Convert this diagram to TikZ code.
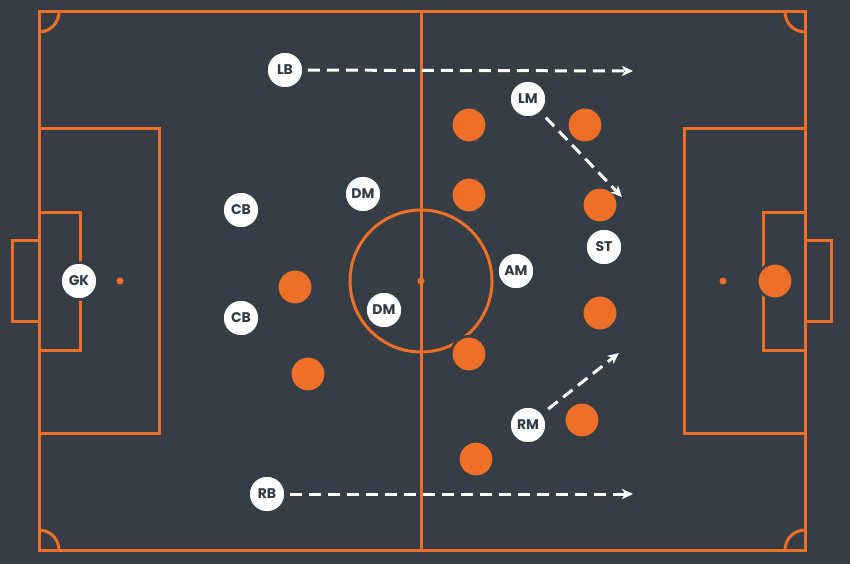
\documentclass[tikz,border=0pt]{standalone}
\usepackage{fontspec}
\setmainfont{Poppins}
\usetikzlibrary{arrows.meta}
\definecolor{pitch}{RGB}{54,61,68}
\definecolor{chalk}{RGB}{238,112,40}
\definecolor{ink}{RGB}{52,58,64}
\tikzstyle{player} = [circle, fill=white, draw=pitch, line width=2.5pt, minimum size=37pt, inner sep=0pt, text=ink, font=\bfseries\fontsize{14}{14}\selectfont]
\tikzstyle{rival} = [circle, fill=chalk, draw=pitch, line width=2.5pt, minimum size=35.5pt, inner sep=0pt]
\tikzstyle{run} = [draw=white, line width=3pt, dash pattern=on 12pt off 7pt, -{Stealth[length=11pt,width=10pt,inset=3pt]}]
\tikzstyle{line} = [draw=chalk, line width=3pt]

\begin{document}
\begin{tikzpicture}[x=1pt, y=-1pt]
    % pitch
    \fill[pitch] (0,0) rectangle (850,564);
    \useasboundingbox (0,0) rectangle (850,564);
    \draw[line] (39,12) rectangle (805,550);
    \draw[line] (421,12) -- (421,550);
    \draw[line] (421,281) circle[radius=71];
    \fill[chalk] (421,281) circle[radius=3.5];
    \draw[line] (39,129) rectangle (159,433);
    \draw[line] (39,212) rectangle (80,350);
    \draw[line] (12,240) rectangle (39,321);
    \fill[chalk] (120,281) circle[radius=3.5];
    \draw[line] (684,129) rectangle (805,433);
    \draw[line] (763,212) rectangle (805,350);
    \draw[line] (805,240) rectangle (831,321);
    \fill[chalk] (723,281) circle[radius=3.5];
    \begin{scope}
        \clip (39,12) rectangle (805,550);
        \draw[line] (39,12) circle[radius=20];
        \draw[line] (805,12) circle[radius=20];
        \draw[line] (39,550) circle[radius=20];
        \draw[line] (805,550) circle[radius=20];
    \end{scope}

    % opponents
    \node [rival] (rivalA) at (469,125) {};
    \node [rival] (rivalB) at (585,125) {};
    \node [rival] (rivalC) at (469,195) {};
    \node [rival] (rivalD) at (600,205) {};
    \node [rival] (rivalE) at (295,287) {};
    \node [rival] (rivalF) at (600,313) {};
    \node [rival] (rivalG) at (469,354) {};
    \node [rival] (rivalH) at (308,374) {};
    \node [rival] (rivalI) at (582,420) {};
    \node [rival] (rivalJ) at (476,459) {};
    \node [rival] (rivalKeeper) at (775,281) {};

    % team
    \node [player] (leftBack) at (285,70) {LB};
    \node [player] (leftMid) at (528,99) {LM};
    \node [player] (centreBackA) at (241,210) {CB};
    \node [player] (defMidA) at (363,194) {DM};
    \node [player] (striker) at (604,247) {ST};
    \node [player] (goalKeeper) at (79,281) {GK};
    \node [player] (attMid) at (516,271) {AM};
    \node [player] (centreBackB) at (241,318) {CB};
    \node [player] (defMidB) at (384,310) {DM};
    \node [player] (rightMid) at (528,425) {RM};
    \node [player] (rightBack) at (267,494) {RB};

    % runs
    \coordinate (leftBackEnd) at (633,71);
    \coordinate (leftMidEnd) at (622,197);
    \coordinate (rightMidEnd) at (619,353);
    \coordinate (rightBackEnd) at (633,494);
    \path [run, shorten <=3pt] (leftBack) -- (leftBackEnd);
    \path [run, shorten <=6pt] (leftMid) -- (leftMidEnd);
    \path [run, shorten <=6pt] (rightMid) -- (rightMidEnd);
    \path [run, shorten <=3pt] (rightBack) -- (rightBackEnd);
\end{tikzpicture}
\end{document}
